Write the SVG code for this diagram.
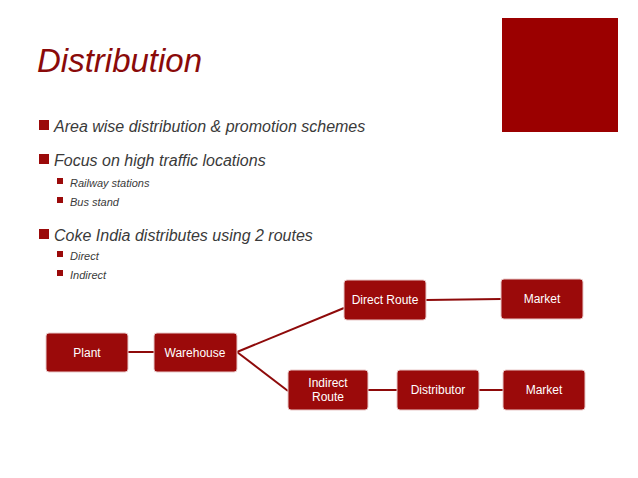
<svg xmlns="http://www.w3.org/2000/svg" width="638" height="478" viewBox="0 0 638 478">
<style>
.t{font-family:"Liberation Sans",sans-serif;font-style:italic;fill:#3a3a3a}
.b{fill:#9b0a0a}
.n rect{fill:#9b0a0a;stroke:#e8c8c8;stroke-width:1}
.n text{font-family:"Liberation Sans",sans-serif;font-size:12px;fill:#fff;text-anchor:middle}
#connectors line{stroke:#8e0a0a;stroke-width:2}
</style>
<rect width="638" height="478" fill="#fff"/>
<rect x="502" y="18" width="116" height="114" fill="#9b0000"/>
<text x="37" y="72" font-family="Liberation Sans,sans-serif" font-style="italic" font-size="33" fill="#8a0a0a">Distribution</text>
<rect class="b" x="39" y="120" width="10" height="10"/><text class="t" x="54" y="132" font-size="16">Area wise distribution &amp; promotion schemes</text>
<rect class="b" x="39" y="154" width="10" height="10"/><text class="t" x="54" y="166" font-size="16">Focus on high traffic locations</text>
<rect class="b" x="57" y="178" width="6" height="6"/><text class="t" x="70" y="187" font-size="11">Railway stations</text>
<rect class="b" x="57" y="197" width="6" height="6"/><text class="t" x="70" y="206" font-size="11">Bus stand</text>
<rect class="b" x="39" y="229" width="10" height="10"/><text class="t" x="54" y="241" font-size="16">Coke India distributes using 2 routes</text>
<rect class="b" x="57" y="251" width="6" height="6"/><text class="t" x="70" y="260" font-size="11">Direct</text>
<rect class="b" x="57" y="270" width="6" height="6"/><text class="t" x="70" y="279" font-size="11">Indirect</text>
<g id="connectors">
<line x1="128" y1="352" x2="154" y2="352"/>
<line x1="237" y1="352" x2="344" y2="308"/>
<line x1="237" y1="352" x2="288" y2="391"/>
<line x1="426" y1="300" x2="501" y2="299"/>
<line x1="368" y1="390" x2="397" y2="390"/>
<line x1="479" y1="390" x2="503" y2="390"/>
</g>
<g id="plant" class="n"><rect x="46" y="333" width="82" height="39" rx="3"/><text x="87" y="357">Plant</text></g>
<g id="warehouse" class="n"><rect x="154" y="333" width="83" height="39" rx="3"/><text x="195" y="357">Warehouse</text></g>
<g id="direct" class="n"><rect x="344" y="280" width="82" height="40" rx="3"/><text x="385" y="304">Direct Route</text></g>
<g id="market1" class="n"><rect x="501" y="279" width="82" height="40" rx="3"/><text x="542" y="303">Market</text></g>
<g id="indirect" class="n"><rect x="288" y="370" width="80" height="40" rx="3"/><text x="328" y="387">Indirect</text><text x="328" y="401">Route</text></g>
<g id="distributor" class="n"><rect x="397" y="370" width="82" height="40" rx="3"/><text x="438" y="394">Distributor</text></g>
<g id="market2" class="n"><rect x="503" y="370" width="82" height="40" rx="3"/><text x="544" y="394">Market</text></g>
</svg>
